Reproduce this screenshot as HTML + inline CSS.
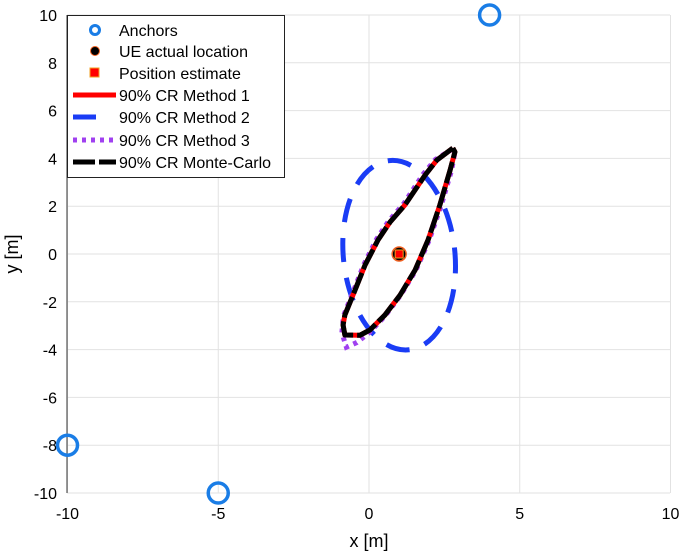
<!DOCTYPE html>
<html><head><meta charset="utf-8"><style>
body{margin:0;background:#fff;}
svg text{font-family:"Liberation Sans",Arial,sans-serif;}
</style></head><body>
<svg id="chart" width="685" height="554" xmlns="http://www.w3.org/2000/svg">
<g id="grid"></g>
<g id="ticks"></g>
<g id="series"></g>
<text x="369" y="547" font-size="18" text-anchor="middle">x [m]</text>
<text transform="translate(18,254) rotate(-90)" font-size="18" text-anchor="middle">y [m]</text>
<g>
<rect x="67.5" y="15.5" width="217" height="162" fill="#fff" stroke="#222" stroke-width="1"/>
<g><circle cx="95" cy="30" r="4.5" fill="none" stroke="#1a7de6" stroke-width="3"/><text x="119" y="36" font-size="16">Anchors</text></g>
<g><circle cx="95" cy="51" r="4.5" fill="#000" stroke="#f06020" stroke-width="1"/><text x="119" y="57" font-size="16">UE actual location</text></g>
<g><rect x="90" y="68" width="9" height="9" fill="#f00" stroke="#f0a020" stroke-width="1"/><text x="119" y="79" font-size="16">Position estimate</text></g>
<g><line x1="73" y1="95" x2="116" y2="95" stroke="#f00" stroke-width="5"/><text x="119" y="101" font-size="16">90% CR Method 1</text></g>
<g><line x1="73" y1="117" x2="96" y2="117" stroke="#1a3cf5" stroke-width="5"/><text x="119" y="123" font-size="16">90% CR Method 2</text></g>
<g><line x1="73" y1="140" x2="116" y2="140" stroke="#a040f0" stroke-width="5" stroke-dasharray="4,5"/><text x="119" y="146" font-size="16">90% CR Method 3</text></g>
<g><line x1="73" y1="162" x2="116" y2="162" stroke="#000" stroke-width="5" stroke-dasharray="22,4"/><text x="119" y="168" font-size="16">90% CR Monte-Carlo</text></g>
</g>
</svg>
<script>
const xTicks=[-10,-5,0,5,10];
const yTicks=[-10,-8,-6,-4,-2,0,2,4,6,8,10];
const anchorsX=[-10,-5,4];
const anchorsY=[-8,-10,10];
const ueX=[1], ueY=[0];
const estX=[1], estY=[0];
const ell2Center=[1,-0.05], ell2Axes=[1.85,3.98];
const m1X=[2.78,2.25,1.86,1.19,0.7,0.3,-0.13,-0.46,-0.8,-0.86,-0.8,-0.3,0.03,0.53,1.03,1.53,1.96,2.35,2.69,2.85,2.78];
const m1Y=[4.43,3.93,3.3,2.05,1.34,0.59,-0.46,-1.5,-2.55,-2.97,-3.39,-3.4,-3.18,-2.55,-1.72,-0.67,0.59,2.05,3.51,4.27,4.43];
const m3X=[2.78,2.2,1.8,1.15,0.65,0.25,-0.18,-0.5,-0.85,-0.9,-0.75,-0.4,0.0,0.53,1.05,1.56,2.0,2.4,2.74,2.85,2.78];
const m3Y=[4.4,3.95,3.35,2.1,1.38,0.62,-0.46,-1.5,-2.6,-3.3,-3.9,-3.7,-3.3,-2.6,-1.72,-0.67,0.59,2.05,3.51,4.27,4.4];
const X=v=>369+v*30.15, Y=v=>254-v*23.9;
const NS='http://www.w3.org/2000/svg';
function mk(p,t,a){const e=document.createElementNS(NS,t);for(const k in a)e.setAttribute(k,a[k]);p.appendChild(e);return e;}
const grid=document.getElementById('grid'),ticks=document.getElementById('ticks'),ser=document.getElementById('series');
xTicks.forEach(v=>{const l=mk(grid,'line',{x1:X(v),x2:X(v),y1:15,y2:493,stroke:'#e2e2e2','stroke-width':1});


const t=mk(ticks,'text',{x:X(v),y:519,'font-size':16,'text-anchor':'middle'});t.textContent=v;

});
yTicks.forEach(v=>{const l=mk(grid,'line',{x1:67,x2:670,y1:Y(v),y2:Y(v),stroke:'#e2e2e2','stroke-width':1});


const t=mk(ticks,'text',{x:57,y:Y(v)+6,'font-size':16,'text-anchor':'end'});t.textContent=v;

});
const ax=mk(grid,'line',{x1:67,x2:67,y1:15,y2:493,stroke:'#333','stroke-width':1});


const e2=mk(ser,'ellipse',{cx:X(ell2Center[0]),cy:Y(ell2Center[1]),rx:ell2Axes[0]*30.15,ry:ell2Axes[1]*23.9,fill:'none',stroke:'#1a3cf5','stroke-width':5,'stroke-dasharray':'24,16',transform:`rotate(-6 ${X(ell2Center[0])} ${Y(ell2Center[1])})`});


const pts=(xs,ys)=>xs.map((v,i)=>X(v)+','+Y(ys[i])).join(' ');
const p3=mk(ser,'polyline',{points:pts(m3X,m3Y),fill:'none',stroke:'#a040f0','stroke-width':5,'stroke-dasharray':'4,5'});


const p1=mk(ser,'polyline',{points:pts(m1X,m1Y),fill:'none',stroke:'#f00','stroke-width':5,'stroke-linejoin':'round'});


const pm=mk(ser,'polyline',{points:pts(m1X,m1Y),fill:'none',stroke:'#000','stroke-width':5,'stroke-dasharray':'22,4','stroke-linejoin':'round'});


anchorsX.forEach((v,i)=>{const c=mk(ser,'circle',{cx:X(v),cy:Y(anchorsY[i]),r:10,fill:'none',stroke:'#1a7de6','stroke-width':3.5});

});
ueX.forEach((v,i)=>{const c=mk(ser,'circle',{cx:X(v),cy:Y(ueY[i]),r:7,fill:'#000',stroke:'#f06020','stroke-width':1.5});

});
estX.forEach((v,i)=>{const r=mk(ser,'rect',{x:X(v)-4,y:Y(estY[i])-4,width:8,height:8,fill:'#f00',stroke:'#f0a020','stroke-width':1});

});
</script>
</body></html>
